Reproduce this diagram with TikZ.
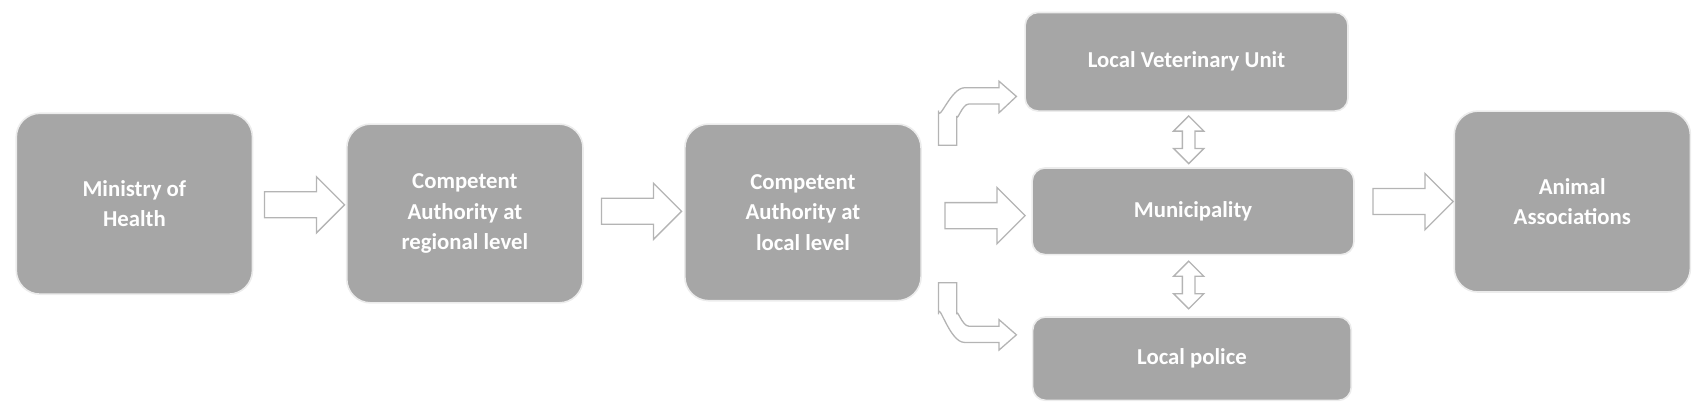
\documentclass[tikz,border=0pt]{standalone}
\usepackage{fontspec}
\setmainfont{Carlito}
\usetikzlibrary{shapes.arrows}
\begin{document}
\begin{tikzpicture}[x=1pt,y=-1pt,
  box/.style={fill=boxgray,draw=gray!15,line width=1.5pt,rounded corners=22pt,text=white,font=\fontsize{21}{28}\selectfont\bfseries,align=center,inner sep=0pt},
  sbox/.style={box,rounded corners=12pt},
  barrow/.style={single arrow,draw=arrgray,fill=white,line width=1.2pt,minimum height=74pt,minimum width=52pt,single arrow head extend=10pt,inner sep=8pt},
  darrow/.style={double arrow,draw=arrgray,fill=white,line width=1.2pt,minimum height=44pt,minimum width=28pt,double arrow head extend=5pt,inner sep=3pt,rotate=90},
  bent/.style={draw=arrgray,fill=white,line width=1.2pt}]
\definecolor{boxgray}{HTML}{A6A6A6}
\definecolor{arrgray}{HTML}{B4B4B4}
\useasboundingbox (0,0) rectangle (1567,375);
\node[box,minimum width=218pt,minimum height=167pt] (min) at (124,188) {Ministry of\\Health};
\node[box,minimum width=218pt,minimum height=165pt] (reg) at (429,197) {Competent\\Authority at\\regional level};
\node[box,minimum width=218pt,minimum height=163pt] (loc) at (741,196) {Competent\\Authority at\\local level};
\node[sbox,minimum width=298pt,minimum height=91pt] (lvu) at (1095,57) {Local Veterinary Unit};
\node[sbox,minimum width=297pt,minimum height=80pt] (mun) at (1101,195) {Municipality};
\node[sbox,minimum width=294pt,minimum height=77pt] (pol) at (1100,331) {Local police};
\node[box,minimum width=218pt,minimum height=167pt] (ani) at (1451,186) {Animal\\Associations};
\node[barrow] (a1) at (275,189) {};
\node[barrow] (a2) at (586,195) {};
\node[barrow] (a3) at (903,199) {};
\node[barrow] (a4) at (1298,186) {};
\node[darrow] (d1) at (1097,129) {};
\node[darrow] (d2) at (1097,263) {};
\draw[bent] (866,134) -- (866,102) to[out=-90,in=180] (890,81) -- (922,81) -- (922,75) -- (938,89) -- (922,104) -- (922,96) -- (894,96) to[out=180,in=-90] (883,107) -- (883,134) -- cycle;
\draw[bent] (866,261) -- (866,290) to[out=90,in=180] (890,316) -- (922,316) -- (922,323) -- (938,309) -- (922,295) -- (922,301) -- (894,301) to[out=180,in=90] (883,290) -- (883,261) -- cycle;
\end{tikzpicture}
\end{document}
